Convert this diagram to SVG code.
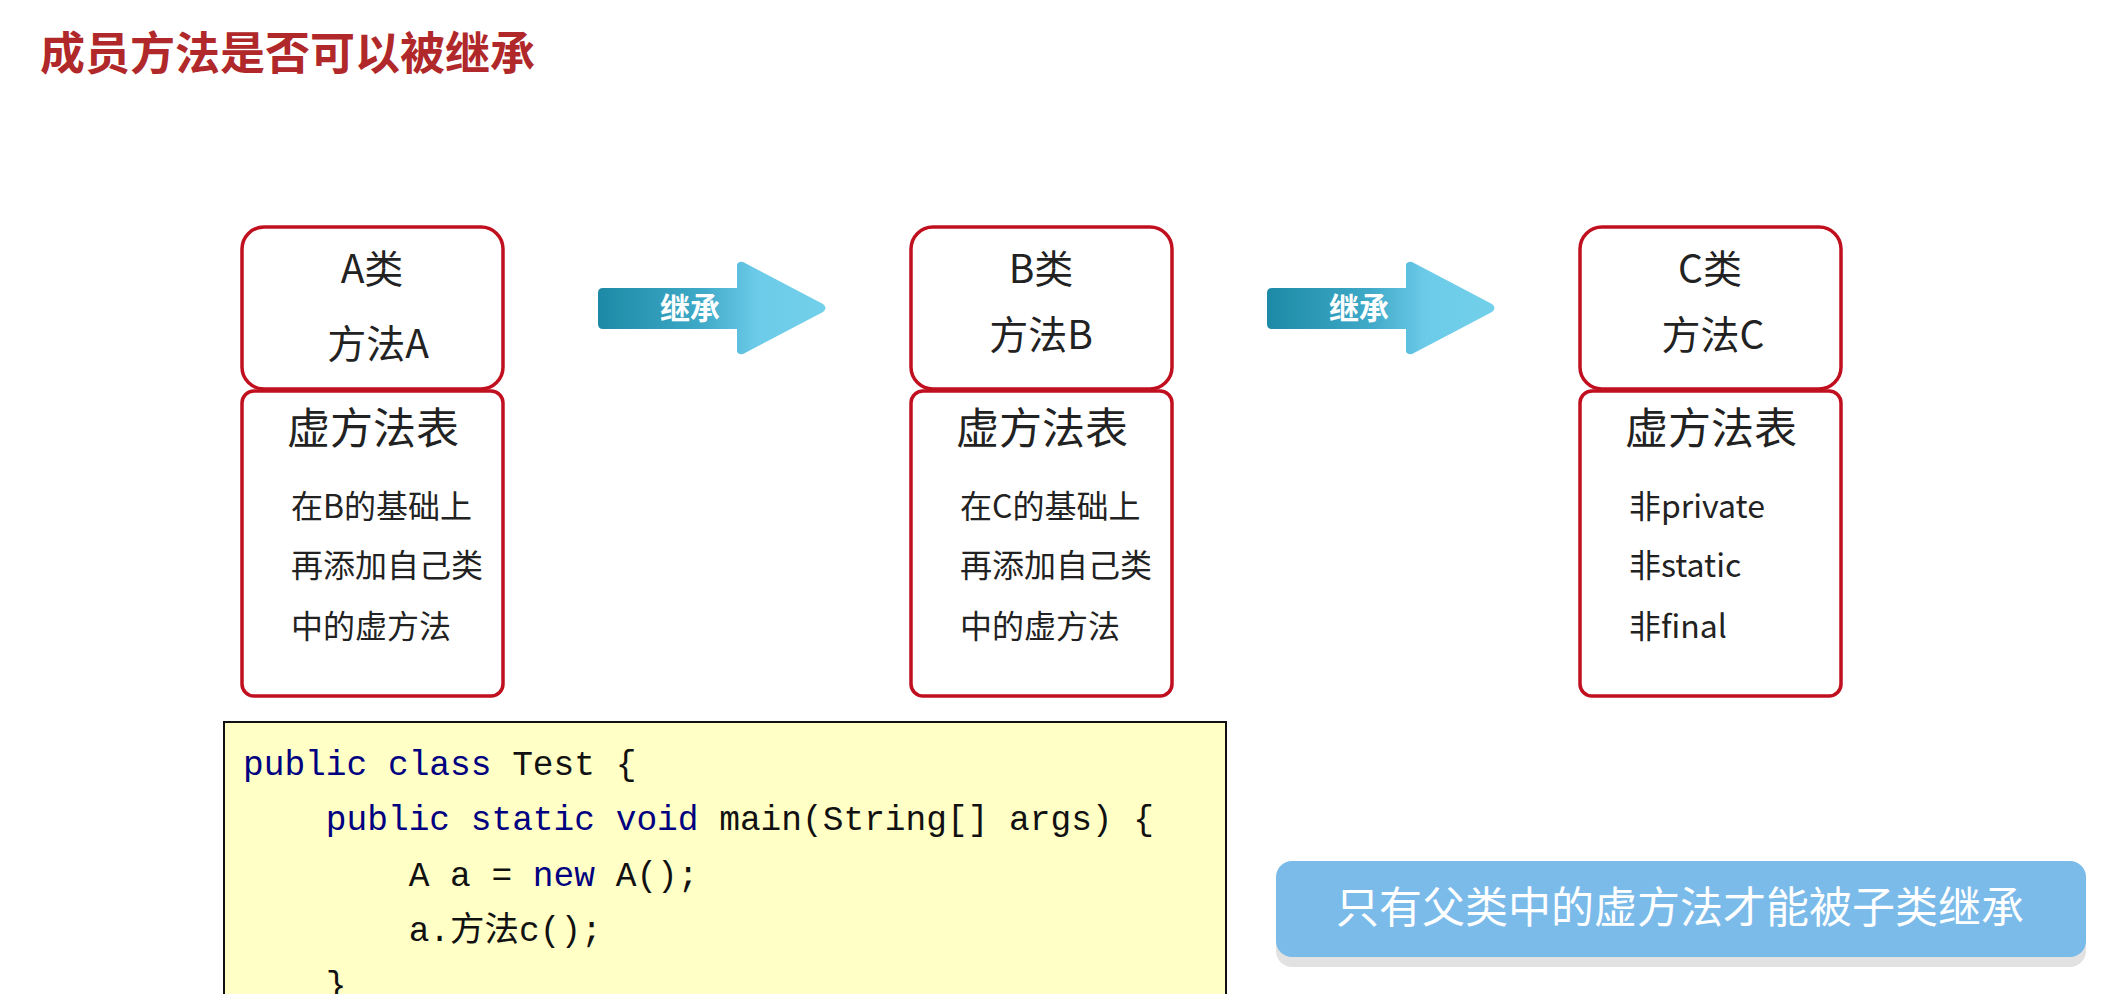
<svg xmlns="http://www.w3.org/2000/svg" width="2120" height="994" viewBox="0 0 2120 994">
<defs>
<linearGradient id="ag" x1="0" y1="0" x2="1" y2="0">
<stop offset="0" stop-color="#1c8aa6"/><stop offset="0.45" stop-color="#3fa9c8"/><stop offset="0.7" stop-color="#6ccbe8"/><stop offset="1" stop-color="#72d0ea"/>
</linearGradient>
<style>
.box{fill:#fff;stroke:#c0101f;stroke-width:3.5}
.t{font-family:"Noto Sans CJK SC","Noto Sans",sans-serif;fill:#222}
.big{font-size:39px;text-anchor:middle}
.vt{font-size:43px;text-anchor:middle}
.ln{font-size:32px}
.code{font-family:"Liberation Mono",monospace;font-size:34.5px;fill:#111;white-space:pre}
.kw{fill:#000080}
.al{font-family:"Noto Sans CJK SC",sans-serif;font-size:30px;font-weight:bold;fill:#fff;text-anchor:middle}
</style>
</defs>
<rect width="2120" height="994" fill="#fff"/>
<text x="40" y="70" class="t" style="font-size:45px;font-weight:bold;fill:#b0282a">成员方法是否可以被继承</text>

<g id="nodeA">
<rect class="box" x="242" y="227" width="261" height="162" rx="22"/>
<rect class="box" x="242" y="391" width="261" height="305" rx="12"/>
<text class="t big" x="372" y="283">A类</text>
<text class="t big" x="378" y="358">方法A</text>
<text class="t vt" x="373" y="444">虚方法表</text>
<text class="t ln" x="291" y="518">在B的基础上</text>
<text class="t ln" x="291" y="577">再添加自己类</text>
<text class="t ln" x="291" y="638">中的虚方法</text>
</g>
<g id="nodeB">
<rect class="box" x="911" y="227" width="261" height="162" rx="22"/>
<rect class="box" x="911" y="391" width="261" height="305" rx="12"/>
<text class="t big" x="1041" y="283">B类</text>
<text class="t big" x="1041" y="349">方法B</text>
<text class="t vt" x="1042" y="444">虚方法表</text>
<text class="t ln" x="960" y="518">在C的基础上</text>
<text class="t ln" x="960" y="577">再添加自己类</text>
<text class="t ln" x="960" y="638">中的虚方法</text>
</g>
<g id="nodeC">
<rect class="box" x="1580" y="227" width="261" height="162" rx="22"/>
<rect class="box" x="1580" y="391" width="261" height="305" rx="12"/>
<text class="t big" x="1710" y="283">C类</text>
<text class="t big" x="1713" y="349">方法C</text>
<text class="t vt" x="1711" y="444">虚方法表</text>
<text class="t ln" x="1629" y="518">非private</text>
<text class="t ln" x="1629" y="577">非static</text>
<text class="t ln" x="1629" y="638">非final</text>
</g>

<g id="connectors">
<path d="M603 288 H737 V264 Q740 260 745 263 L823 304 Q828 308 823 312 L745 353 Q740 356 737 352 V329 H603 Q598 329 598 324 V293 Q598 288 603 288 Z" fill="url(#ag)"/>
<text class="al" x="690" y="319">继承</text>
<path d="M1272 288 H1406 V264 Q1409 260 1414 263 L1492 304 Q1497 308 1492 312 L1414 353 Q1409 356 1406 352 V329 H1272 Q1267 329 1267 324 V293 Q1267 288 1272 288 Z" fill="url(#ag)"/>
<text class="al" x="1359" y="319">继承</text>
</g>

<g id="code">
<rect x="224" y="722" width="1002" height="290" fill="#ffffc6" stroke="#111" stroke-width="2"/>
<text class="code" x="243" y="775"><tspan class="kw">public class</tspan> Test {</text>
<text class="code" x="243" y="830">    <tspan class="kw">public static void</tspan> main(String[] args) {</text>
<text class="code" x="243" y="886">        A a = <tspan class="kw">new</tspan> A();</text>
<text class="code" x="243" y="941">        a.<tspan style="font-family:'Noto Sans CJK SC',sans-serif">方法</tspan>c();</text>
<text class="code" x="243" y="996">    }</text>
</g>

<g id="note">
<rect x="1276" y="871" width="810" height="96" rx="16" fill="#e2e2e2"/>
<rect x="1276" y="861" width="810" height="96" rx="16" fill="#7abbea"/>
<text x="1680" y="923" style="font-family:'Noto Sans CJK SC',sans-serif;font-size:43px;fill:#fff;text-anchor:middle">只有父类中的虚方法才能被子类继承</text>
</g>
</svg>
